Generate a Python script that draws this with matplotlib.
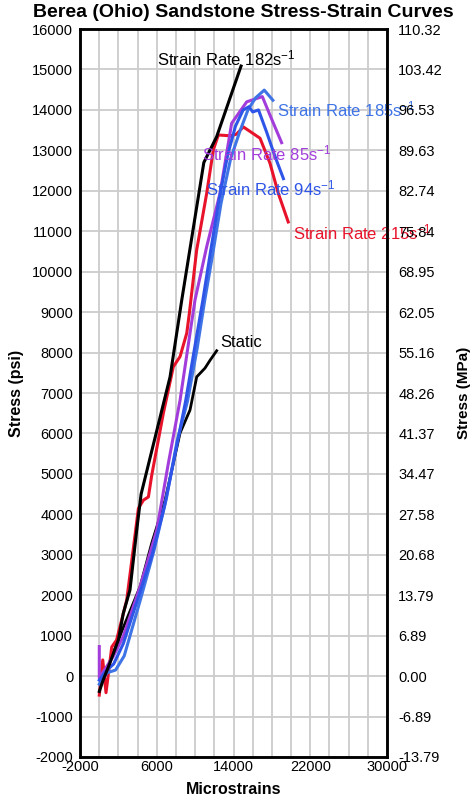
import numpy as np
import matplotlib
matplotlib.use("Agg")
import matplotlib.pyplot as plt
from matplotlib.ticker import MultipleLocator, FixedLocator

plt.rcParams['font.family'] = ['Liberation Sans', 'DejaVu Sans']
plt.rcParams['mathtext.fontset'] = 'custom'
plt.rcParams['mathtext.rm'] = 'Liberation Sans'
plt.rcParams['mathtext.default'] = 'regular'
plt.rcParams['axes.unicode_minus'] = False

# Curves (microstrain, psi)
static_x = [300, 1000, 2500, 4250, 5470, 6860, 8420, 9460, 10160, 11020, 11550, 12240]
static_y = [-100, 300, 1200, 2210, 3290, 4350, 6010, 6580, 7400, 7615, 7810, 8045]

sr182_x = [0, 400, 1100, 2000, 2500, 3200, 3900, 4360, 7380, 8600, 10900, 12240, 14780]
sr182_y = [-380, -100, 320, 900, 1550, 2130, 3600, 4500, 7400, 9300, 12700, 13340, 15085]

sr215_x = [0, 360, 700, 1300, 1800, 2860, 3530, 4080, 4600, 5120, 5470, 6680, 7720, 8420,
           9120, 9390, 10150, 11200, 11890, 12410, 13700, 14300, 15020, 16760, 17800, 18660, 19700]
sr215_y = [-470, 400, -410, 720, 890, 1880, 3120, 4150, 4350, 4430, 4970, 6500, 7650, 7900,
           8480, 8970, 10530, 11940, 13010, 13380, 13360, 13400, 13580, 13300, 12680, 11940, 11230]

sr85_x = [0, 0, 400, 1440, 2480, 4250, 5990, 7200, 8420, 9460, 9980, 11200, 12590, 13800,
          15370, 17000, 17800, 19010]
sr85_y = [730, -50, 100, 480, 970, 2210, 3610, 5260, 6820, 8480, 9300, 10620, 11940, 13670,
          14200, 14330, 13870, 13190]

sr94_x = [0, 600, 1500, 2500, 4000, 5500, 6800, 8000, 9000, 10000, 10800, 11600, 12500,
          13400, 14200, 15000, 15600, 16000, 16600, 17450, 18320, 19200]
sr94_y = [-100, 100, 300, 800, 1900, 3000, 4200, 5600, 6800, 8200, 9300, 10500, 11800,
          12900, 13600, 14000, 14080, 13950, 14000, 13450, 12850, 12300]

sr185_x = [0, 800, 1700, 2600, 4300, 5700, 7000, 8100, 9200, 10200, 11000, 11800, 12700,
           13700, 14700, 15500, 16300, 17200, 18100]
sr185_y = [-200, 80, 150, 500, 1900, 3100, 4400, 5800, 6800, 8100, 9300, 10400, 11700,
           12800, 13500, 14000, 14300, 14490, 14240]

psi_ticks = np.arange(-2000, 16001, 1000)
x_ticks = [-2000, 6000, 14000, 22000, 30000]

fig = plt.figure(figsize=(4.74, 8.07), dpi=100)
ax = fig.add_axes([0.169, 0.062, 0.6475, 0.902])

red = '#e8132b'
purple = '#a23ddc'
blue94 = '#2e55e8'
blue185 = '#3f74e6'

ax.plot(static_x, static_y, color='black', lw=2)
ax.plot(sr215_x, sr215_y, color=red, lw=2.2)
ax.plot(sr85_x, sr85_y, color=purple, lw=2.2)
ax.plot(sr185_x, sr185_y, color=blue185, lw=2.2)
ax.plot(sr94_x, sr94_y, color=blue94, lw=2.2)
ax.plot(sr182_x, sr182_y, color='black', lw=2.2)

ax.set_xlim(-2000, 30000)
ax.set_ylim(-2000, 16000)
ax.xaxis.set_major_locator(FixedLocator(x_ticks))
ax.xaxis.set_minor_locator(MultipleLocator(2000))
ax.yaxis.set_major_locator(FixedLocator(psi_ticks))
ax.grid(True, which='both', color='#cccccc', lw=1.3)
ax.set_axisbelow(True)
ax.tick_params(which='both', length=0, labelsize=10.5, pad=5)
ax.tick_params(axis='x', pad=2)
for s in ax.spines.values():
    s.set_linewidth(1.8)

ax.set_xlabel('Microstrains', fontsize=11.5, fontweight='bold', labelpad=6)
ax.set_ylabel('Stress (psi)', fontsize=11.5, fontweight='bold', labelpad=6)

ax2 = ax.twinx()
ax2.set_ylim(ax.get_ylim())
ax2.yaxis.set_major_locator(FixedLocator(psi_ticks))
ax2.set_yticklabels([f'{v * 0.0068948:.2f}' for v in psi_ticks])
ax2.tick_params(length=0, labelsize=10.5, pad=8)
ax2.set_ylabel('Stress (MPa)', fontsize=11, fontweight='bold', labelpad=10)
for s in ax2.spines.values():
    s.set_linewidth(1.8)

ax.text(6020, 15280, 'Strain Rate 182s$^{-1}$', fontsize=12, color='black', va='center')
ax.text(18530, 14000, 'Strain Rate 185s$^{-1}$', fontsize=12, color=blue185, va='center', clip_on=False)
ax.text(10710, 12930, 'Strain Rate 85s$^{-1}$', fontsize=12, color=purple, va='center')
ax.text(11130, 12070, 'Strain Rate 94s$^{-1}$', fontsize=12, color=blue94, va='center')
ax.text(20200, 10980, 'Strain Rate 215s$^{-1}$', fontsize=12, color=red, va='center', clip_on=False, zorder=5)
ax.text(12590, 8260, 'Static', fontsize=12, color='black', va='center')

fig.text(0.07, 0.985, 'Berea (Ohio) Sandstone Stress-Strain Curves', fontsize=14,
         fontweight='bold', va='center', ha='left')

fig.savefig('out.png', dpi=100)
